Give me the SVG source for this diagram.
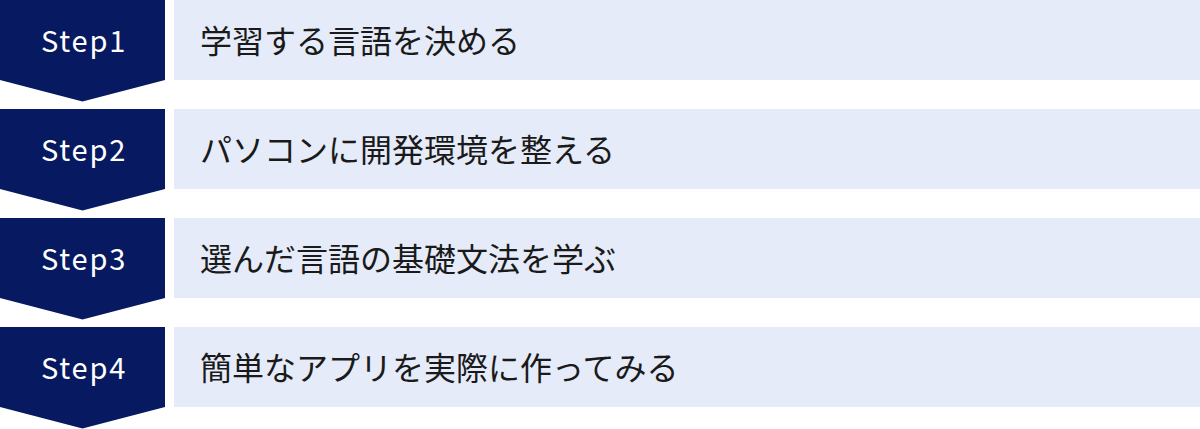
<svg xmlns="http://www.w3.org/2000/svg" width="1200" height="429" viewBox="0 0 1200 429">
<style>
.step{fill:#061961}
.bar{fill:#E5EBF8}
.st{font-family:"Noto Sans CJK JP","Noto Sans",sans-serif;font-size:29px;fill:#FFFFFF;letter-spacing:1.8px}
.tx{font-family:"Noto Sans CJK JP",sans-serif;font-size:32px;fill:#1A1A1A}
</style>
<rect width="1200" height="429" fill="#FFFFFF"/>
<g id="step1">
<polygon class="step" points="0,0 165,0 165,80 82.5,101.5 0,80"/>
<rect class="bar" x="174" y="0" width="1026" height="80"/>
<text class="st" x="41" y="52">Step1</text>
<text class="tx" x="200" y="52.5">学習する言語を決める</text>
</g>
<g id="step2">
<polygon class="step" points="0,109 165,109 165,189 82.5,210.5 0,189"/>
<rect class="bar" x="174" y="109" width="1026" height="80"/>
<text class="st" x="41" y="161">Step2</text>
<text class="tx" x="200" y="161.5">パソコンに開発環境を整える</text>
</g>
<g id="step3">
<polygon class="step" points="0,218 165,218 165,298 82.5,319.5 0,298"/>
<rect class="bar" x="174" y="218" width="1026" height="80"/>
<text class="st" x="41" y="270">Step3</text>
<text class="tx" x="200" y="270.5">選んだ言語の基礎文法を学ぶ</text>
</g>
<g id="step4">
<polygon class="step" points="0,327 165,327 165,407 82.5,428.5 0,407"/>
<rect class="bar" x="174" y="327" width="1026" height="80"/>
<text class="st" x="41" y="379">Step4</text>
<text class="tx" x="200" y="379.5">簡単なアプリを実際に作ってみる</text>
</g>
<g id="connectors"></g>
</svg>
